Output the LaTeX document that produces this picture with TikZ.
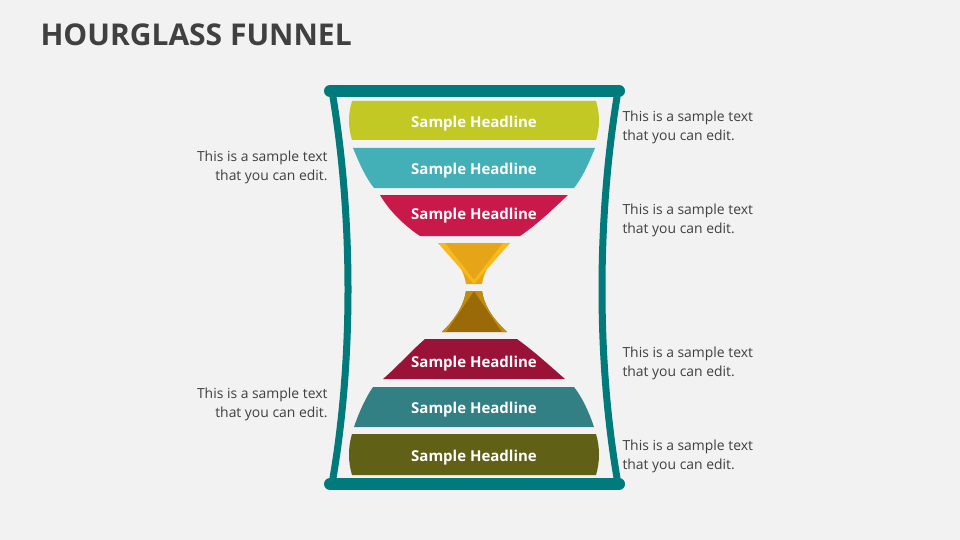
\documentclass[tikz,border=0pt]{standalone}
\usepackage{fontspec}
\setmainfont{Open Sans}
\begin{document}
\begin{tikzpicture}[x=1pt,y=-1pt,
  hl/.style={font=\bfseries\fontsize{15}{17}\selectfont,text=white},
  st/.style={font=\fontsize{13.9}{19}\selectfont,text=black!75,align=left,anchor=west},
  sl/.style={st,align=right,anchor=east},
  frame/.style={draw=fr,line width=7pt,line cap=round}]
\definecolor{fr}{HTML}{007A7A}
\definecolor{c1}{HTML}{C2C824}\definecolor{c2}{HTML}{43B0B8}\definecolor{c3}{HTML}{C9184A}
\definecolor{g1}{HTML}{E6A418}\definecolor{g1l}{HTML}{F8B91C}\definecolor{g2}{HTML}{9A6A08}\definecolor{g2l}{HTML}{C18C0C}
\definecolor{c4}{HTML}{9A1238}\definecolor{c5}{HTML}{327F84}\definecolor{c6}{HTML}{606016}
\fill[black!5] (0,0) rectangle (960,540);
\useasboundingbox (0,0) rectangle (960,540);
\node[anchor=west,font=\bfseries\fontsize{30}{33}\selectfont,text=black!75] (title) at (37,35) {HOURGLASS FUNNEL};
% frame
\draw[frame] (333,97) .. controls (353,220) and (353,360) .. (333,478);
\draw[frame] (617,97) .. controls (597,220) and (597,360) .. (617,478);
\draw[draw=fr,line width=12pt,line cap=round] (330,91) -- (619,91);
\draw[draw=fr,line width=12pt,line cap=round] (330,484) -- (619,484);
% bands
\fill[c1] (352,101) -- (596,101) .. controls (600,114) and (600,127) .. (596,140) -- (352,140) .. controls (348,127) and (348,114) .. (352,101) -- cycle;
\fill[c2] (353,148) -- (595,148) .. controls (588,165) and (582,178) .. (574,188) -- (374,188) .. controls (366,178) and (360,165) .. (353,148) -- cycle;
\fill[c3] (380,195) -- (568,195) .. controls (550,212) and (535,226) .. (520,236) -- (420,236) .. controls (405,226) and (390,212) .. (380,195) -- cycle;
\fill[g1] (438,243) -- (510,243) .. controls (492,258) and (484,270) .. (482,284) -- (466,284) .. controls (464,270) and (456,258) .. (438,243) -- cycle;
\fill[g1l] (438,243) -- (474,284) -- (510,243) -- (503,243) -- (474,280) -- (445,243) -- cycle;
\fill[g2] (466,291) -- (482,291) .. controls (484,305) and (492,318) .. (507,332) -- (442,332) .. controls (456,318) and (464,305) .. (466,291) -- cycle;
\fill[g2l] (466,291) -- (474,291) -- (446,332) -- (442,332) .. controls (456,318) and (464,305) .. (466,291) -- cycle;
\fill[g2l] (482,291) -- (474,291) -- (502,332) -- (507,332) .. controls (492,318) and (484,305) .. (482,291) -- cycle;
\fill[c4] (425,339) -- (517,339) .. controls (535,352) and (550,366) .. (565,379) -- (383,379) .. controls (398,366) and (410,352) .. (425,339) -- cycle;
\fill[c5] (373,387) -- (574,387) .. controls (582,397) and (589,412) .. (594,427) -- (354,427) .. controls (359,412) and (366,397) .. (373,387) -- cycle;
\fill[c6] (352,434) -- (596,434) .. controls (600,447) and (600,462) .. (596,475) -- (352,475) .. controls (348,462) and (348,447) .. (352,434) -- cycle;
\node[hl] (h1) at (474,124) {Sample Headline};
\node[hl] (h2) at (474,171) {Sample Headline};
\node[hl] (h3) at (474,216) {Sample Headline};
\node[hl] (h4) at (474,364) {Sample Headline};
\node[hl] (h5) at (474,410) {Sample Headline};
\node[hl] (h6) at (474,458) {Sample Headline};
\node[st] (r1) at (619,127) {This is a sample text\\that you can edit.};
\node[st] (r2) at (619,220) {This is a sample text\\that you can edit.};
\node[st] (r3) at (619,363) {This is a sample text\\that you can edit.};
\node[st] (r4) at (619,456) {This is a sample text\\that you can edit.};
\node[sl] (l1) at (331,167) {This is a sample text\\that you can edit.};
\node[sl] (l2) at (331,404) {This is a sample text\\that you can edit.};
\end{tikzpicture}
\end{document}
